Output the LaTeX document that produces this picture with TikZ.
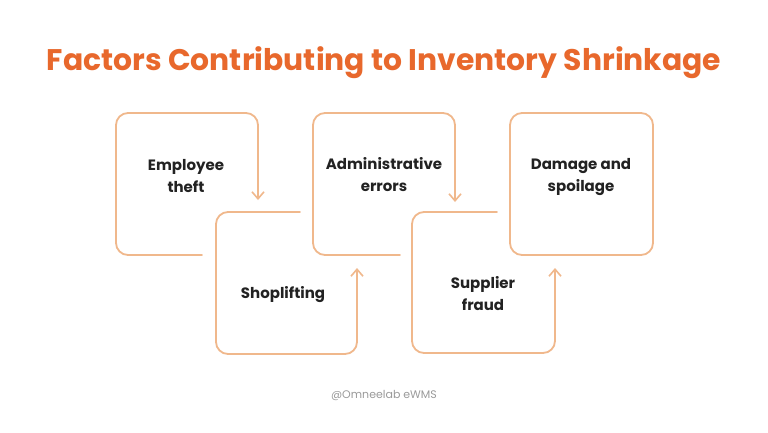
\documentclass[tikz,border=0pt]{standalone}
\usepackage{fontspec}
\setmainfont{Poppins}
\usetikzlibrary{arrows.meta}
\definecolor{titleor}{HTML}{E8682C}
\definecolor{peach}{HTML}{F0B88C}
\definecolor{txt}{HTML}{222222}
\definecolor{wm}{HTML}{9A9A9A}
\tikzset{
  flow/.style={draw=peach, line width=1.8pt, rounded corners=12pt, line cap=round},
  tip/.style={-{Straight Barb[length=7pt,width=12pt,line width=1.6pt]}},
  lbl/.style={font=\bfseries\fontsize{15}{22}\selectfont, text=txt, align=center}
}
\begin{document}
\begin{tikzpicture}[x=1pt,y=-1pt]
\useasboundingbox (0,0) rectangle (768,432);
\fill[white] (0,0) rectangle (768,432);
\node[font=\bfseries\fontsize{29.8}{35}\selectfont, text=titleor] (title) at (384,63) {Factors Contributing to Inventory Shrinkage};
% box 1
\coordinate (a1) at (202,255);
\coordinate (t1) at (258,200);
\draw[flow,tip] (a1) -- (116,255) -- (116,113) -- (258,113) -- (t1);
% box 2
\coordinate (a2) at (300,212);
\coordinate (t2) at (357,268);
\draw[flow,tip] (a2) -- (216,212) -- (216,354) -- (357,354) -- (t2);
% box 3
\coordinate (a3) at (400,255);
\coordinate (t3) at (455,202);
\draw[flow,tip] (a3) -- (313,255) -- (313,113) -- (455,113) -- (t3);
% box 4
\coordinate (a4) at (497,212);
\coordinate (t4) at (555,268);
\draw[flow,tip] (a4) -- (412,212) -- (412,353) -- (555,353) -- (t4);
% box 5
\draw[flow] (510,113) rectangle (653,255);
\node[lbl] (n1) at (186,176) {Employee\\theft};
\node[lbl] (n2) at (283,295) {Shoplifting};
\node[lbl] (n3) at (384,175) {Administrative\\errors};
\node[lbl] (n4) at (483,294) {Supplier\\fraud};
\node[lbl] (n5) at (581,177) {Damage and\\spoilage};
\node[font=\fontsize{11}{13}\selectfont, text=wm] (wmk) at (384,396) {@Omneelab eWMS};
\end{tikzpicture}
\end{document}
